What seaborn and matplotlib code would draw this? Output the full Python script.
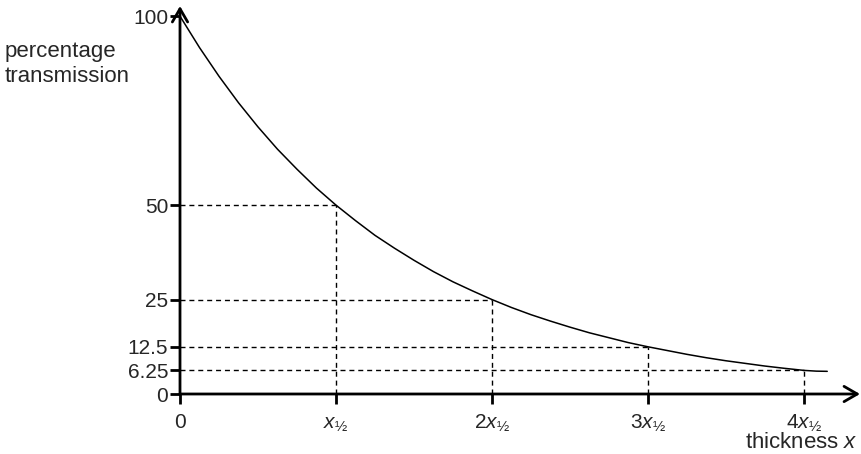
import numpy as np
import pandas as pd
import matplotlib
matplotlib.use("Agg")
import matplotlib.pyplot as plt
import matplotlib.transforms as mtransforms
import seaborn as sns

# ---- data (x in units of half-thickness x½) ----
curve_x = [0, 0.125, 0.25, 0.375, 0.5, 0.625, 0.75, 0.875, 1.0, 1.125, 1.25,
           1.375, 1.5, 1.625, 1.75, 1.875, 2.0, 2.125, 2.25, 2.375, 2.5,
           2.625, 2.75, 2.875, 3.0, 3.125, 3.25, 3.375, 3.5, 3.625, 3.75,
           3.875, 4.0, 4.08, 4.15]
curve_y = [100, 91.7, 84.1, 77.1, 70.7, 64.8, 59.5, 54.5, 50, 45.9, 42.0,
           38.6, 35.4, 32.4, 29.7, 27.3, 25, 22.9, 21.0, 19.3, 17.7,
           16.2, 14.9, 13.6, 12.5, 11.5, 10.5, 9.6, 8.8, 8.1, 7.4,
           6.8, 6.25, 6.05, 6.0]

half_x = [1, 2, 3, 4]               # multiples of x½
half_y = [50, 25, 12.5, 6.25]       # transmission at those thicknesses

ytick_vals = [0, 6.25, 12.5, 25, 50, 100]
ytick_labels = ["0", "6.25", "12.5", "25", "50", "100"]
xtick_vals = [0, 1, 2, 3, 4]
xtick_labels = ["0", r"$x_{½}$", r"$2x_{½}$", r"$3x_{½}$", r"$4x_{½}$"]

y_title_lines = ["percentage", "transmission"]
x_title = r"thickness $x$"

# ---- style ----
sns.set_style("white")
plt.rcParams["font.family"] = ["Liberation Sans", "DejaVu Sans"]
plt.rcParams["mathtext.fontset"] = "custom"
plt.rcParams["mathtext.rm"] = "Liberation Sans"
plt.rcParams["mathtext.it"] = "Liberation Sans:italic"
plt.rcParams["mathtext.bf"] = "Liberation Sans:bold"

TICK_FS = 15
TITLE_FS = 16

W, H = 861, 454
fig = plt.figure(figsize=(W / 100, H / 100), dpi=100)
ax = fig.add_axes([180 / W, 60 / H, 680 / W, 388 / H])

df = pd.DataFrame({"x": curve_x, "y": curve_y})
sns.lineplot(data=df, x="x", y="y", ax=ax, color="black", lw=1.1,
             estimator=None, sort=False)

# dashed guide lines
for hx, hy in zip(half_x, half_y):
    ax.plot([0, hx], [hy, hy], color="black", lw=1.0, dashes=(3.6, 2.8),
            clip_on=False)
    ax.plot([hx, hx], [0, hy], color="black", lw=1.0, dashes=(3.6, 2.8),
            clip_on=False)

xmax, ymax = 4.36, 102.7
ax.set_xlim(0, xmax)
ax.set_ylim(0, ymax)
for s in ax.spines.values():
    s.set_visible(False)

# axes with arrow heads
arrow = dict(arrowstyle="->,head_length=0.95,head_width=0.55", lw=2.0,
             color="black", shrinkA=0, shrinkB=0)
ax.annotate("", xy=(xmax, 0), xytext=(0, 0), arrowprops=arrow,
            annotation_clip=False)
ax.annotate("", xy=(0, ymax), xytext=(0, 0), arrowprops=arrow,
            annotation_clip=False)

ax.set_yticks(ytick_vals)
ax.set_yticklabels(ytick_labels, fontsize=TICK_FS)
ax.set_xticks(xtick_vals)
ax.set_xticklabels([""] * len(xtick_vals))
ax.tick_params(axis="both", direction="out", length=7.5, width=2,
               color="black", pad=1.0)
ax.tick_params(axis="y", left=True)
ax.tick_params(axis="x", bottom=True)
ax.set_xlabel("")
ax.set_ylabel("")

# x tick labels placed on a common baseline
blend = mtransforms.blended_transform_factory(ax.transData, fig.transFigure)
for xv, lab in zip(xtick_vals, xtick_labels):
    ax.text(xv, (H - 428) / H, lab, transform=blend, ha="center",
            va="baseline", fontsize=TICK_FS)

fig.text(858 / W, (H - 448) / H, x_title, ha="right", va="baseline",
         fontsize=TITLE_FS)
fig.text(5 / W, (H - 57) / H, y_title_lines[0], ha="left", va="baseline",
         fontsize=TITLE_FS)
fig.text(5 / W, (H - 82) / H, y_title_lines[1], ha="left", va="baseline",
         fontsize=TITLE_FS)

fig.savefig("out.png", dpi=100)
